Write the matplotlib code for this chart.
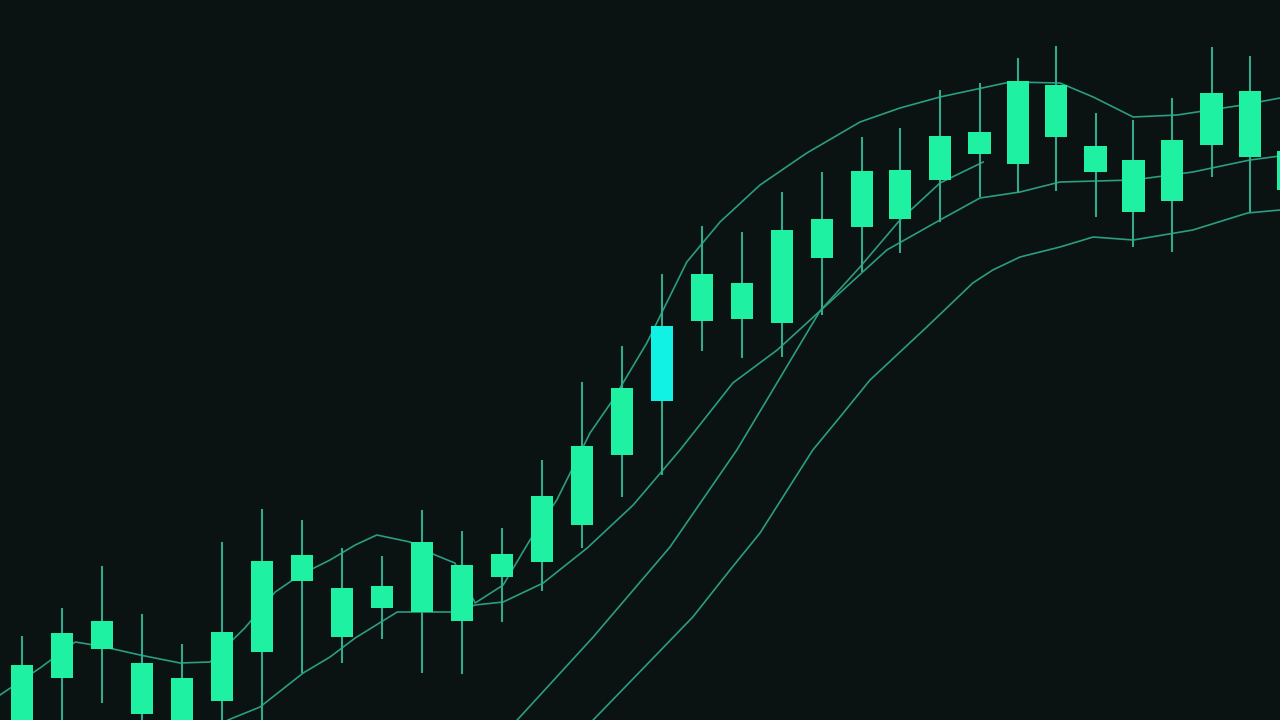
import matplotlib
matplotlib.use("Agg")
import matplotlib.pyplot as plt
import numpy as np

# session positions (the spacing tightens a little towards the right)
sessions = [0, 1, 2, 3, 4, 5, 6, 7, 8, 9, 10, 11, 12, 13, 14, 15, 16, 17, 18, 19, 20, 21,
            21.95, 22.95, 23.94, 24.9, 25.85, 26.84, 27.78, 28.75, 29.74, 30.7, 31.67]

# candle values (price units), one per session
opens = [-15, 42, 71, 6, -20, 19, 68, 139, 83, 112, 108, 99, 143, 158, 195, 265, 319,
         399, 401, 397, 462, 493, 501, 540, 566, 556, 583, 548, 508, 519, 575, 563, 530]
closes = [55, 87, 99, 57, 42, 88, 159, 165, 132, 134, 178, 155, 166, 224, 274, 332, 394,
          446, 437, 490, 501, 549, 550, 584, 588, 639, 635, 574, 560, 580, 627, 629, 569]
highs = [84, 112, 154, 106, 76, 178, 211, 200, 172, 164, 210, 189, 192, 260, 338, 374, 446,
         494, 488, 528, 548, 583, 592, 630, 637, 662, 674, 607, 600, 622, 673, 664, 610]
lows = [-40, -20, 17, -20, -40, -20, -20, 47, 57, 81, 47, 46, 98, 129, 172, 223, 245,
        369, 362, 363, 405, 448, 467, 498, 523, 527, 529, 503, 473, 468, 543, 508, 495]
highlight = 16  # the one cyan candle

# moving average lines: positions and values
fast_x = [-0.55, 0.45, 1.33, 1.95, 2.95, 3.95, 4.70, 5.57, 6.33, 6.95, 7.70, 8.33, 8.87,
          9.70, 10.33, 10.82, 11.33, 12.03, 12.70, 13.37, 14.20, 14.77, 15.62, 16.62,
          17.45, 18.45, 19.62, 20.95, 21.95, 22.95, 24.70, 25.95, 26.78, 27.78, 28.88,
          30.52, 31.45]
fast_y = [25, 52, 78, 74, 65, 57, 58, 92, 128, 145, 160, 175, 185, 178, 165, 157, 117,
          135, 180, 220, 287, 320, 377, 458, 498, 535, 567, 598, 612, 623, 638, 637, 623,
          603, 605, 615, 622]

mid_x = [5.15, 5.95, 7.03, 7.70, 8.33, 9.38, 10.77, 11.33, 12.03, 13.03, 14.13, 15.28,
         16.45, 17.77, 18.88, 19.95, 21.62, 22.95, 23.95, 24.95, 25.95, 27.78, 29.27,
         30.70, 31.45]
mid_y = [0, 13, 47, 63, 82, 108, 108, 115, 118, 137, 172, 215, 270, 337, 370, 409, 470,
         500, 522, 528, 538, 540, 548, 560, 564]

slow_x = [12.38, 14.28, 16.20, 17.87, 18.62, 19.95, 20.95, 21.95, 22.95, 24.03]
slow_y = [0, 83, 173, 270, 320, 409, 453, 500, 537, 558]

low_x = [14.28, 16.77, 17.70, 18.45, 19.77, 20.45, 21.20, 22.62, 23.77, 24.27, 24.95,
         25.95, 26.78, 27.78, 29.27, 30.64, 31.45]
low_y = [0, 103, 150, 187, 270, 303, 340, 393, 437, 450, 463, 473, 483, 480, 490, 507,
         510]

bg = "#0a1311"
body_green = "#1ef2a2"
body_cyan = "#12f2e4"
wick_col = "#34a98b"
line_col = "#2a9d82"

fig = plt.figure(figsize=(12.8, 7.2), dpi=100, facecolor=bg)
ax = fig.add_axes([0, 0, 1, 1])
ax.set_facecolor(bg)

for xs, ys in [(fast_x, fast_y), (mid_x, mid_y), (slow_x, slow_y), (low_x, low_y)]:
    ax.plot(xs, ys, color=line_col, lw=1.2, zorder=1, solid_joinstyle="round")

ax.vlines(sessions, lows, highs, color=wick_col, lw=1.5, zorder=2)
colors = [body_cyan if i == highlight else body_green for i in range(len(opens))]
ax.bar(sessions, np.array(closes) - np.array(opens), bottom=opens, width=0.57,
       color=colors, edgecolor="none", zorder=3)

ax.set_xlim(-0.55, 31.45)
ax.set_ylim(0, 720)
ax.axis("off")

fig.savefig("out.png", dpi=100, facecolor=bg)
